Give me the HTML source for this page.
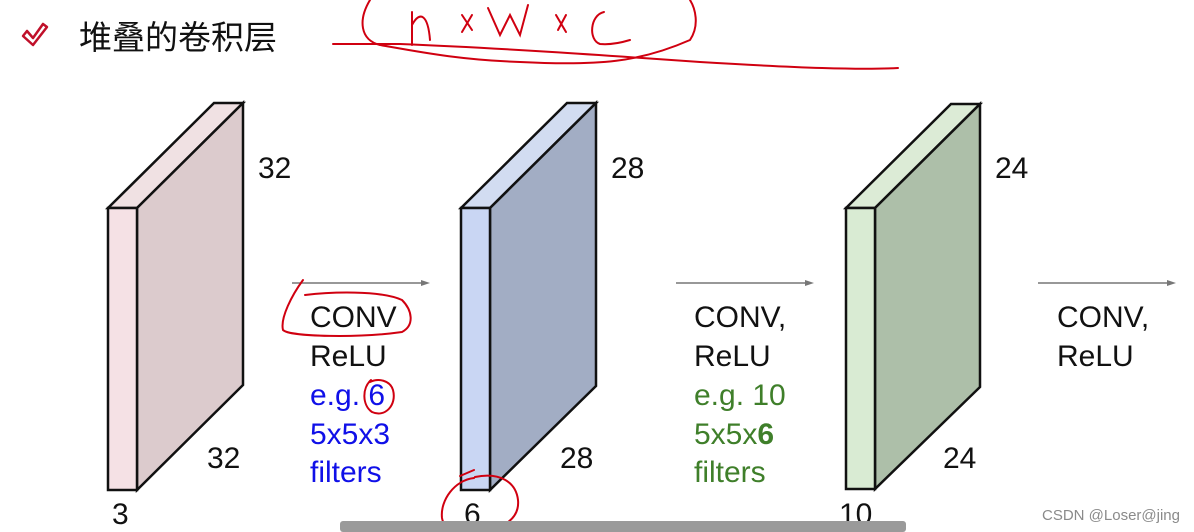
<!DOCTYPE html>
<html><head><meta charset="utf-8"><style>
body{margin:0;background:#fff;width:1194px;height:532px;overflow:hidden}
svg{display:block}
text{font-family:"Liberation Sans","Noto Sans CJK SC",sans-serif}
</style></head><body>
<svg width="1194" height="532" viewBox="0 0 1194 532">
<path d="M23 36 L33 45 L47 27 L43 24 L33 38 L27 31 Z" fill="none" stroke="#c0102a" stroke-width="2.5" stroke-linejoin="round"/>
<text x="79" y="49" font-size="33" fill="#111">堆叠的卷积层</text>
<g stroke="#111" stroke-width="2.5" stroke-linejoin="miter">
<polygon points="108,208 214,103 243,103 137,208" fill="#f0e1e3"/>
<polygon points="137,208 243,103 243,385 137,490" fill="#dccbcd"/>
<rect x="108" y="208" width="29" height="282" fill="#f5e1e5"/>
<polygon points="461,208 567,103 596,103 490,208" fill="#d2dcf1"/>
<polygon points="490,208 596,103 596,386 490,490" fill="#a2adc4"/>
<rect x="461" y="208" width="29" height="282" fill="#c9d6f3"/>
<polygon points="846,208 951,104 980,104 875,208" fill="#dcebd6"/>
<polygon points="875,208 980,104 980,387 875,489" fill="#adbfa9"/>
<rect x="846" y="208" width="29" height="281" fill="#d9ebd3"/>
</g>
<g font-size="30" fill="#111">
<text x="258" y="178">32</text><text x="207" y="468">32</text><text x="112" y="524">3</text>
<text x="611" y="178">28</text><text x="560" y="468">28</text><text x="464" y="524">6</text>
<text x="995" y="178">24</text><text x="943" y="468">24</text><text x="839" y="524">10</text>
</g>
<g stroke="#777" stroke-width="1.5"><line x1="292" y1="283" x2="424" y2="283"/><line x1="676" y1="283" x2="808" y2="283"/><line x1="1038" y1="283" x2="1170" y2="283"/></g>
<g fill="#777"><polygon points="430,283 421,280 421,286"/><polygon points="814,283 805,280 805,286"/><polygon points="1176,283 1167,280 1167,286"/></g>
<g font-size="30">
<text x="310" y="327" fill="#111">CONV</text><text x="310" y="366" fill="#111">ReLU</text>
<text x="310" y="405" fill="#1010e8">e.g. 6</text><text x="310" y="444" fill="#1010e8">5x5x3</text><text x="310" y="482" fill="#1010e8">filters</text>
<text x="694" y="327" fill="#111">CONV,</text><text x="694" y="366" fill="#111">ReLU</text>
<text x="694" y="405" fill="#3f7f2a">e.g. 10</text><text x="694" y="444" fill="#3f7f2a">5x5x<tspan font-weight="bold">6</tspan></text><text x="694" y="482" fill="#3f7f2a">filters</text>
<text x="1057" y="327" fill="#111">CONV,</text><text x="1057" y="366" fill="#111">ReLU</text>
</g>
<g fill="none" stroke="#d00010" stroke-width="2" stroke-linecap="round">
<path d="M333 44 L400 44 C500 48 600 55 700 62 C800 68 860 70 898 68"/>
<path d="M370 0 C358 20 360 40 380 45 C420 52 460 60 520 62 C600 66 640 62 690 40 C700 25 695 8 690 0"/>
<path d="M412 45 L412 12 M412 25 C420 10 428 15 430 40"/>
<path d="M462 15 L472 30 M472 15 L462 32"/>
<path d="M488 8 L500 35 L510 15 L520 35 L528 5"/>
<path d="M556 15 L566 32 M566 15 L558 30"/>
<path d="M604 12 C590 15 588 40 600 44 C610 45 620 43 630 40"/>
<path d="M303 280 C292 295 280 318 283 330 C290 337 360 338 402 332 C415 325 412 310 402 300 C380 290 330 292 305 295"/>
<path d="M371 380 C362 388 362 405 372 412 C385 418 397 405 393 390 C390 380 378 378 370 382"/>
<path d="M474 478 C455 480 440 500 442 518 C444 530 456 532 470 532 M470 532 C500 532 520 520 518 500 C516 482 500 472 475 477 M460 476 L474 470"/>
</g>
<rect x="340" y="521" width="566" height="11" rx="3" fill="#9a9a9a"/>
<text x="1042" y="520" font-size="15" fill="#8a8a8a">CSDN @Loser@jing</text>
</svg>
</body></html>
